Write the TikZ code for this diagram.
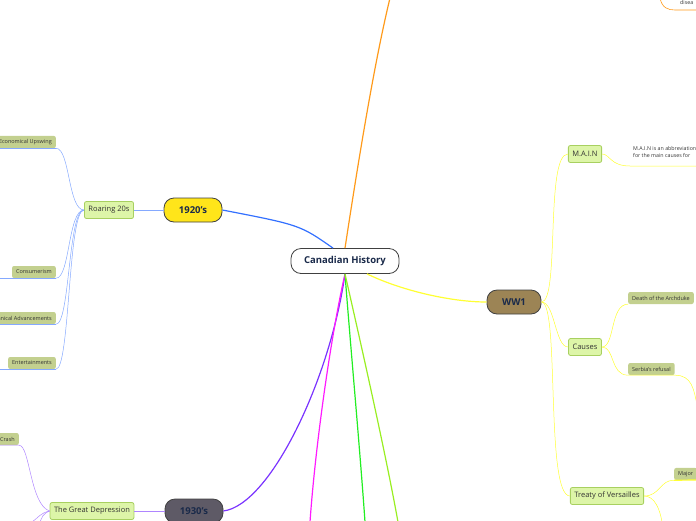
\documentclass[tikz,border=0pt]{standalone}
\usepackage{fontspec}
\setmainfont{Open Sans}
\definecolor{tgreen}{HTML}{DDF5A8}
\definecolor{tgreenb}{HTML}{A8D060}
\definecolor{leaf}{HTML}{C3D08F}
\definecolor{navy}{HTML}{1A2A4A}
\definecolor{c20}{HTML}{FFE51A}
\definecolor{c30}{HTML}{5E5A66}
\definecolor{cww}{HTML}{9C8455}
\definecolor{lblue}{HTML}{3370FF}
\definecolor{lorange}{HTML}{FF9A1A}
\definecolor{lyellow}{HTML}{FFFF33}
\definecolor{lpurple}{HTML}{7A33FF}
\definecolor{lmag}{HTML}{FF1AFF}
\definecolor{lgreen}{HTML}{22EE22}
\definecolor{llime}{HTML}{99EE22}
\begin{document}
\begin{tikzpicture}[x=1pt,y=-1pt,
  mainb/.style={draw=black!75,line width=0.8pt,rounded corners=10pt,minimum height=24pt,font=\fontsize{9.5}{12}\selectfont\bfseries,text=navy,inner xsep=6pt},
  topic/.style={draw=tgreenb,fill=tgreen,line width=0.8pt,rounded corners=2pt,minimum height=17pt,font=\fontsize{7.5}{10}\selectfont,text=black!80,inner xsep=4pt},
  leafb/.style={fill=leaf,rounded corners=2pt,minimum height=12pt,font=\fontsize{5.5}{6}\selectfont,text=black!80,inner xsep=4pt},
  con/.style={line width=1.2pt},
  sub/.style={line width=0.5pt}]
\useasboundingbox (0,0) rectangle (696,520);
% central
\node[mainb,fill=white,minimum width=108pt,minimum height=25pt] (ch) at (345,261) {Canadian History};
\node[mainb,fill=c20,minimum width=58pt] (a20) at (193,210) {1920's};
\node[mainb,fill=c30,minimum width=58pt] (a30) at (194,511) {1930's};
\node[mainb,fill=cww,minimum width=54pt] (ww) at (514,302) {WW1};
% topics
\node[topic] (r20) at (109,210) {Roaring 20s};
\node[topic] (gd) at (92,511) {The Great Depression};
\node[topic] (main) at (585,154) {M.A.I.N};
\node[topic] (cau) at (585,347) {Causes};
\node[topic] (tov) at (607,496) {Treaty of Versailles};
% leaves
\node[leafb,anchor=east] (l1) at (56,142) {Economical Upswing};
\node[leafb,anchor=east] (l2) at (56,272) {Consumerism};
\node[leafb,anchor=east] (l3) at (56,318) {Technical Advancements};
\node[leafb,anchor=east] (l4) at (56,363) {Entertainments};
\node[leafb,anchor=east] (l5) at (19,439) {Crash};
\node[leafb,anchor=west] (l6) at (628,298) {Death of the Archduke};
\node[leafb,anchor=west] (l7) at (628,369) {Serbia's refusal};
\node[leafb,anchor=west] (l8) at (674,474) {Major};
\node[anchor=north west,align=left,font=\fontsize{5.3}{7.5}\selectfont,text=black!80,inner sep=0pt] (mt) at (633,146) {M.A.I.N is an abbreviation\\for the main causes for};
\node[font=\fontsize{5.3}{6}\selectfont,text=black!80,inner sep=0pt,anchor=west] (dis) at (680,3) {disea};
% main connectors
\draw[con,color=lblue] ([xshift=-12pt]ch.north) .. controls (300,225) .. (a20.east);
\draw[con,color=lorange] (ch.north) .. controls (360,150) and (375,60) .. (390,-2);
\draw[con,color=lyellow] ([xshift=22pt]ch.south) .. controls (400,290) and (450,302) .. (ww.west);
\draw[con,color=lpurple] (ch.south) .. controls (330,380) and (270,505) .. (a30.east);
\draw[con,color=lmag] (ch.south) .. controls (330,340) and (315,450) .. (310,522);
\draw[con,color=lgreen] (ch.south) .. controls (350,340) and (360,450) .. (365,522);
\draw[con,color=llime] (ch.south) .. controls (360,340) and (385,450) .. (398,522);
\draw[lorange,line width=0.6pt] (660,-2) .. controls (662,8) and (668,10) .. (675,10) -- (696,10);
% 1920 branch
\draw[sub,lblue!60] (a20.west) -- (r20.east);
\foreach \l in {l1,l2,l3,l4}{
 \draw[sub,lblue!60] (r20.west) .. controls (68,210) and ([xshift=14pt]\l.south east) .. (\l.south east);
 \draw[sub,lblue!60] (\l.south east) -- ([xshift=-80pt]\l.south east);
}
% 1930 branch
\draw[sub,lpurple!60] (a30.west) -- (gd.east);
\draw[sub,lpurple!60] (gd.west) .. controls (30,505) and (30,445) .. (l5.south east);
\draw[sub,lpurple!60] (l5.south east) -- (-2,445);
\draw[sub,lpurple!60] (gd.west) .. controls (40,513) and (38,518) .. (32,522);
\draw[sub,lpurple!60] (gd.west) .. controls (42,514) and (42,518) .. (40,522);
% WW1 branch
\draw[sub,lyellow] (ww.east) .. controls (560,302) and (545,154) .. (main.west);
\draw[sub,lyellow] (ww.east) .. controls (555,302) and (555,347) .. (cau.west);
\draw[sub,lyellow] (ww.east) .. controls (560,302) and (545,496) .. (tov.west);
\draw[sub,lyellow] (main.east) .. controls (610,154) and (610,166) .. (630,166) -- (698,166);
\draw[sub,lyellow] (cau.east) .. controls (615,347) and (610,304) .. (l6.south west);
\draw[sub,lyellow] (cau.east) .. controls (615,347) and (610,375) .. (l7.south west) -- (l7.south east) .. controls (692,375) and (694,390) .. (697,405);
\draw[sub,lyellow] (tov.east) .. controls (660,496) and (660,480) .. (l8.south west);
\draw[line width=1.2pt,lyellow] (l8.south west) -- (698,480);
\draw[sub,lyellow] (tov.east) .. controls (655,496) and (660,510) .. (662,522);
\end{tikzpicture}
\end{document}
